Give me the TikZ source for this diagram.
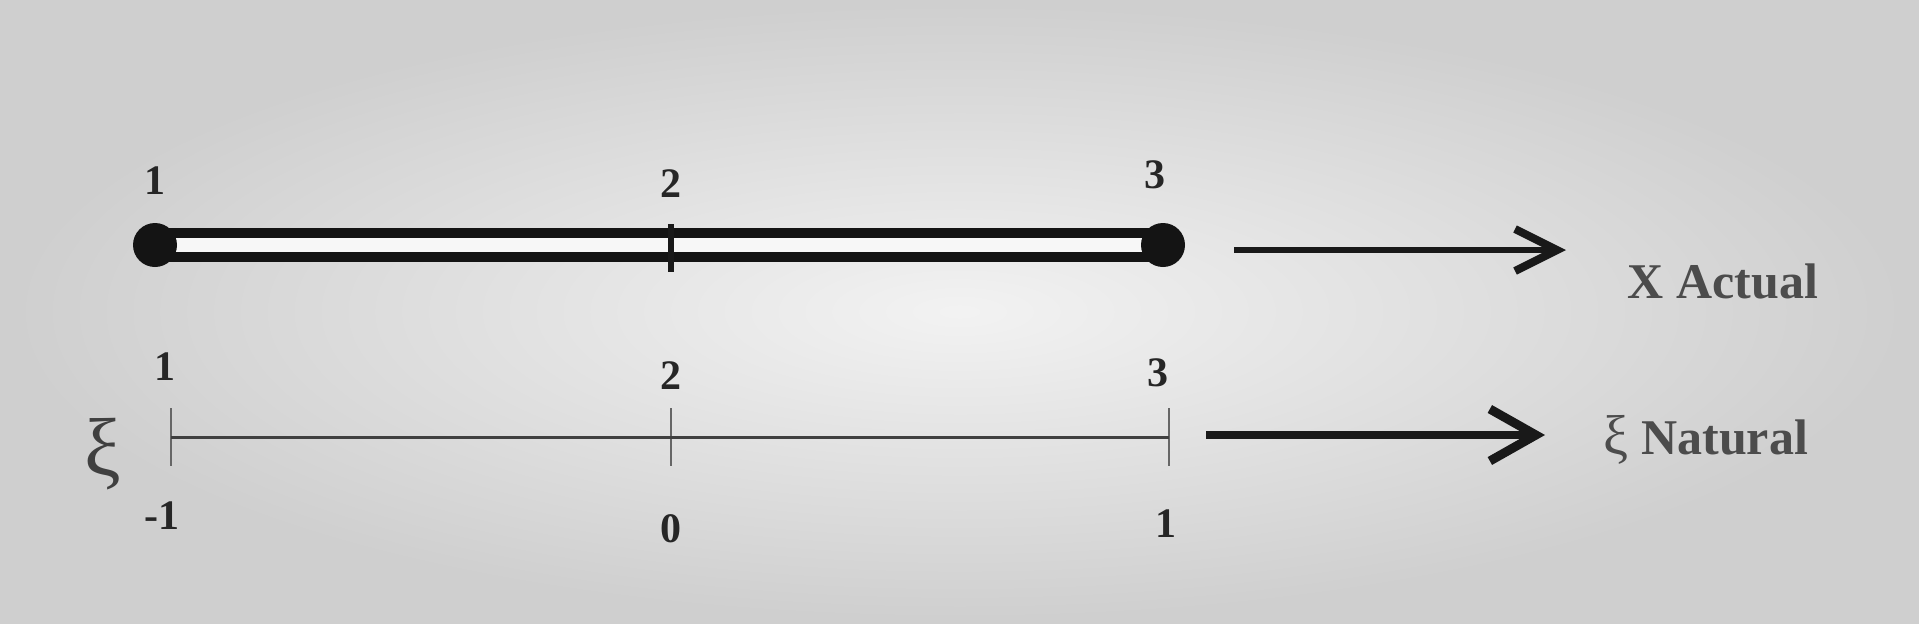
\documentclass[tikz,border=0pt]{standalone}
\usepackage{fontspec}
\setmainfont{Liberation Serif}
\usetikzlibrary{arrows.meta}
\pgfdeclarelayer{bg}
\pgfsetlayers{bg,main}
\begin{document}
\begin{tikzpicture}[x=0.5pt,y=-0.5pt,
  num/.style={font=\fontsize{21}{21}\selectfont\bfseries, text=black!85, inner sep=0pt},
  axlbl/.style={font=\fontsize{25}{25}\selectfont\bfseries, text=black!70, inner sep=0pt},
  enddot/.style={circle, fill=black!92, minimum size=22pt, inner sep=0pt},
  thicktick/.style={rectangle, fill=black!90, minimum width=3pt, minimum height=24pt, inner sep=0pt},
  thintick/.style={rectangle, fill=black!60, minimum width=1pt, minimum height=29pt, inner sep=0pt},
  bar/.style={draw=black!92, line width=5pt, double=gray!6, double distance=7pt},
  axline/.style={draw=black!75, line width=1.5pt},
  dirarrow/.style={draw=black!90, line width=3pt, -{Straight Barb[length=21pt,width=21pt,line width=4pt]}},
  dirarrowb/.style={draw=black!90, line width=4pt, -{Straight Barb[length=23pt,width=26pt,line width=4.5pt]}}]
\useasboundingbox (0,0) rectangle (1919,623);
\begin{pgfonlayer}{bg}
\shade[inner color=gray!10, outer color=gray!38] (0,0) rectangle (1919,623);
\end{pgfonlayer}
% top (actual) element
\node[enddot] (d1) at (155,245) {};
\node[enddot] (d3) at (1163,245) {};
\node[thicktick] (t2) at (671,248) {};
\begin{pgfonlayer}{bg}
\draw[bar] (d1.center) -- (d3.center);
\end{pgfonlayer}
\node[num] (l1) at (155,181) {1};
\node[num] (l2) at (671,184) {2};
\node[num] (l3) at (1155,175) {3};
\coordinate (a1s) at (1234,250);
\coordinate (a1e) at (1566,250);
\draw[dirarrow] (a1s) -- (a1e);
\node[axlbl] (xa) at (1723,281) {X Actual};
% bottom (natural) element
\node[thintick] (b1) at (171,437) {};
\node[thintick] (b2) at (671,437) {};
\node[thintick] (b3) at (1169,437) {};
\draw[axline] (b1.center) -- (b3.center);
\node[num] (m1) at (165,367) {1};
\node[num] (m2) at (671,376) {2};
\node[num] (m3) at (1158,373) {3};
\node[num] (n1) at (162,516) {-1};
\node[num] (n2) at (671,529) {0};
\node[num] (n3) at (1166,524) {1};
\node[inner sep=0pt, font=\fontsize{41}{41}\selectfont, text=black!75] (xi) at (103,454) {ξ};
\coordinate (a2s) at (1206,435);
\coordinate (a2e) at (1545,435);
\draw[dirarrowb] (a2s) -- (a2e);
\node[axlbl] (xn) at (1706,440) {{\fontsize{28}{28}\selectfont\mdseries ξ} Natural};
\end{tikzpicture}
\end{document}
